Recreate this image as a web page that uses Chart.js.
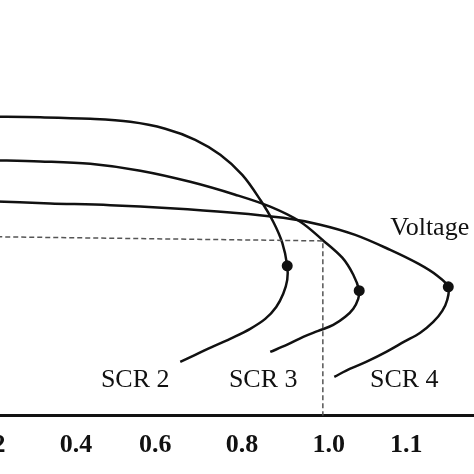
<!DOCTYPE html>
<html><head><meta charset="utf-8">
<script src="https://cdn.jsdelivr.net/npm/chart.js@4.4.1/dist/chart.umd.min.js"></script>
<style>
html,body{margin:0;padding:0;background:#fff;overflow:hidden;width:474px;height:474px;position:relative;}
#wrap{position:absolute;left:0;top:0;}
canvas{display:block;}
</style></head><body>
<div id="wrap"><canvas id="c" width="600" height="560"></canvas></div>
<script>
// x values are in tick-index units (0 -> "0.2", ~1 -> "0.4", ... 5 -> "1.1"); y values are voltage (arbitrary p.u.)
const xTickPos = [0, 1.04, 1.99, 3.03, 4.07, 5];
const xTickLabels = ["0.2", "0.4", "0.6", "0.8", "1.0", "1.1"];

const scr2X = [0, 0.612, 1.211, 1.691, 2.110, 2.470, 2.770, 3.034, 3.249, 3.405, 3.513, 3.573,
               3.573, 3.525, 3.441, 3.309, 3.129, 2.914, 2.674, 2.470, 2.290];
const scr2Y = [0.997, 0.995, 0.990, 0.980, 0.957, 0.920, 0.870, 0.803, 0.720, 0.647, 0.577, 0.500,
               0.453, 0.407, 0.363, 0.323, 0.290, 0.260, 0.230, 0.203, 0.180];

const scr3X = [0, 0.612, 1.211, 1.811, 2.410, 2.950, 3.369, 3.729, 3.993, 4.233, 4.365, 4.436,
               4.424, 4.365, 4.269, 4.125, 3.945, 3.765, 3.573, 3.369];
const scr3Y = [0.852, 0.848, 0.840, 0.817, 0.780, 0.737, 0.697, 0.647, 0.587, 0.527, 0.470, 0.417,
               0.390, 0.357, 0.330, 0.303, 0.283, 0.263, 0.237, 0.213];

const scr4X = [0, 0.731, 1.451, 2.170, 2.890, 3.525, 3.969, 4.388, 4.808, 5.144, 5.372, 5.504,
               5.492, 5.432, 5.324, 5.168, 4.976, 4.760, 4.544, 4.329, 4.137];
const scr4Y = [0.715, 0.708, 0.702, 0.692, 0.678, 0.660, 0.637, 0.603, 0.553, 0.507, 0.467, 0.430,
               0.387, 0.350, 0.313, 0.277, 0.247, 0.213, 0.183, 0.157, 0.130];

const noseX = [3.573, 4.436, 5.504];
const noseY = [0.500, 0.417, 0.430];

const refX = [0, 4, 4];
const refY = [0.597, 0.583, 0];

const labelText = ["SCR 2", "SCR 3", "SCR 4", "Voltage"];
const labelX = [1.75, 3.285, 4.976, 4.808];
const labelY = [0.097, 0.097, 0.097, 0.603];
const labelAlign = ["center", "center", "center", "left"];

// layout constants
const PX_PER_X = 83.4, PX_PER_Y = 300, ORIGIN_LEFT = -11, AXIS_TOP = 416;
const INK = '#111';
const SERIF = '"Liberation Serif", "Times New Roman", serif';

function pts(xs, ys) { return xs.map((x, i) => ({ x: x, y: ys[i] })); }

function curve(xs, ys) {
  return { data: pts(xs, ys), showLine: true, borderColor: INK, borderWidth: 2.5,
           pointRadius: 0, tension: 0.35, fill: false };
}

const textPlugin = {
  id: 'txt',
  afterDatasetsDraw(chart) {
    const { ctx, scales: { x, y } } = chart;
    ctx.save();
    ctx.font = '26px ' + SERIF;
    ctx.fillStyle = INK;
    ctx.textBaseline = 'alphabetic';
    labelText.forEach((t, i) => {
      ctx.textAlign = labelAlign[i];
      ctx.fillText(t, x.getPixelForValue(labelX[i]), y.getPixelForValue(labelY[i]));
    });
    ctx.restore();
  }
};

const chart = new Chart(document.getElementById('c'), {
  type: 'scatter',
  data: {
    datasets: [
      { data: pts(refX, refY), showLine: true, borderColor: '#555', borderWidth: 1.5,
        borderDash: [5, 3], pointRadius: 0, tension: 0 },
      curve(scr2X, scr2Y),
      curve(scr3X, scr3Y),
      curve(scr4X, scr4Y),
      { data: pts(noseX, noseY), showLine: false, pointRadius: 5.5,
        pointBackgroundColor: INK, pointBorderColor: INK, pointBorderWidth: 0 }
    ]
  },
  options: {
    responsive: false,
    animation: false,
    layout: { padding: { left: 10, right: 0, top: 10, bottom: 10 } },
    plugins: { legend: { display: false }, tooltip: { enabled: false } },
    scales: {
      x: {
        type: 'linear', min: 0, max: 6,
        grid: { display: false, drawTicks: false },
        border: { display: true, color: INK, width: 3 },
        afterBuildTicks: (s) => { s.ticks = xTickPos.map(v => ({ value: v })); },
        ticks: {
          autoSkip: false, maxRotation: 0, padding: 14, color: INK,
          font: { family: SERIF, size: 26, weight: 'bold' },
          callback: (v) => { const i = xTickPos.indexOf(v); return i >= 0 ? xTickLabels[i] : ''; }
        }
      },
      y: { type: 'linear', display: false, min: 0, max: 1.5 }
    }
  },
  plugins: [textPlugin]
});

const ca = chart.chartArea;
chart.options.scales.x.max = (ca.right - ca.left) / PX_PER_X;
chart.options.scales.y.max = (ca.bottom - ca.top) / PX_PER_Y;
chart.update('none');
const x0 = chart.scales.x.getPixelForValue(0);
const y0 = chart.scales.y.getPixelForValue(0);
const wrap = document.getElementById('wrap');
wrap.style.left = (ORIGIN_LEFT - x0) + 'px';
wrap.style.top = (AXIS_TOP - y0) + 'px';
</script>
</body></html>
